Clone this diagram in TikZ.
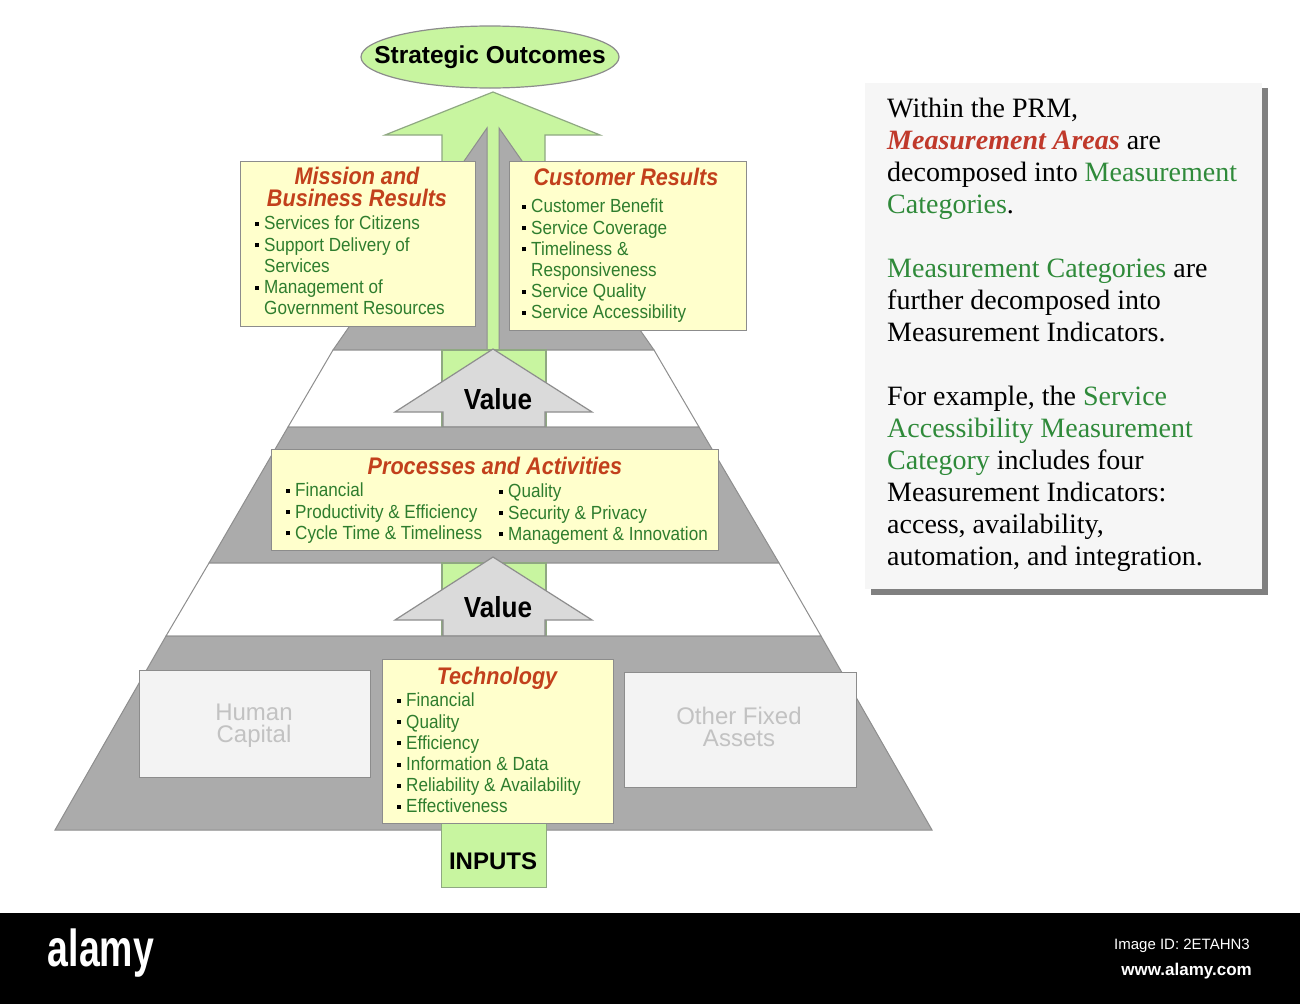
\documentclass[tikz,border=0pt]{standalone}
\usepackage{fontspec}
\usetikzlibrary{shapes.geometric}
\setmainfont{Liberation Serif}
\newfontfamily\sansc[FakeStretch=0.9]{Liberation Sans}
\newfontfamily\sansn{Liberation Sans}
\newfontfamily\sanslogo[FakeStretch=0.72]{Liberation Sans}
\definecolor{arrowgreen}{HTML}{C8F5A0}
\definecolor{arrowline}{HTML}{8FA882}
\definecolor{boxfill}{HTML}{FFFFCC}
\definecolor{boxline}{HTML}{8C8C8C}
\definecolor{pyrgray}{HTML}{ABABAB}
\definecolor{pyrline}{HTML}{8E8E8E}
\definecolor{valuefill}{HTML}{DADADA}
\definecolor{titlered}{HTML}{C2401C}
\definecolor{itemgreen}{HTML}{2E7D2E}
\definecolor{txtgreen}{HTML}{2F8A3A}
\definecolor{txtred}{HTML}{C0392B}
\definecolor{panelfill}{HTML}{F6F6F6}
\definecolor{shadow}{HTML}{808080}
\definecolor{ghostfill}{HTML}{F3F3F3}
\definecolor{ghosttext}{HTML}{C2C2C2}
\newcommand\bul{\makebox[9pt][l]{\color{black}\rule[4pt]{4pt}{4pt}}}
\newcommand\ind{\hspace*{9pt}}
\tikzset{
  box/.style={draw=boxline, fill=boxfill, line width=1.2pt, inner sep=0pt, anchor=north west},
  ghostbox/.style={draw=boxline, fill=ghostfill, line width=1.2pt, inner sep=0pt, anchor=north west},
  greenbox/.style={draw=arrowline, fill=arrowgreen, line width=1.2pt, inner sep=0pt, anchor=north west},
  boxtitle/.style={font=\sansc\bfseries\itshape\fontsize{24}{22}\selectfont, text=titlered, align=center, inner sep=0pt, anchor=north},
  items/.style={font=\sansc\fontsize{19}{21.2}\selectfont, text=itemgreen, align=left, inner sep=0pt, anchor=north west},
  ghosttxt/.style={font=\sansn\fontsize{24}{22}\selectfont, text=ghosttext, align=center, inner sep=0pt},
  valuetxt/.style={font=\sansc\bfseries\fontsize{29}{30}\selectfont, text=black, inner sep=0pt},
  graylayer/.style={fill=pyrgray, draw=pyrline, line width=1pt},
  whitelayer/.style={fill=white, draw=pyrline, line width=1pt},
  greenarrow/.style={fill=arrowgreen, draw=arrowline, line width=1.2pt, line join=miter},
  valuearrow/.style={fill=valuefill, draw=pyrline, line width=1.2pt},
}
\begin{document}
\begin{tikzpicture}[x=1pt, y=-1pt]
\useasboundingbox (0,0) rectangle (1300,1004);
\fill[white] (0,0) rectangle (1300,915);
\fill[black] (0,913) rectangle (1300,1004);

% big green arrow
\draw[greenarrow] (493,92) -- (600,135) -- (545,135) -- (545,350) -- (442,350) -- (442,135) -- (385,135) -- cycle;
% top gray triangle (two halves)
\draw[graylayer] (487,128) -- (487,350) -- (333,350) -- cycle;
\draw[graylayer] (499,128) -- (499,350) -- (654,350) -- cycle;

% white band 1
\draw[whitelayer] (333,350) -- (654,350) -- (699,427) -- (288,427) -- cycle;
\draw[greenarrow] (442,350) rectangle (546,427);
\draw[valuearrow] (493,349) -- (592,412) -- (545,412) -- (545,427) -- (443,427) -- (443,412) -- (395,412) -- cycle;
\node[valuetxt] (v1) at (498,399) {Value};

% gray band 2
\draw[graylayer] (288,427) -- (699,427) -- (779,563) -- (209,563) -- cycle;

% white band 2
\draw[whitelayer] (209,563) -- (779,563) -- (821,636) -- (166,636) -- cycle;
\draw[greenarrow] (442,563) rectangle (546,636);
\draw[valuearrow] (493,557) -- (592,620) -- (545,620) -- (545,636) -- (443,636) -- (443,620) -- (395,620) -- cycle;
\node[valuetxt] (v2) at (498,607) {Value};

% processes box
\node[box, minimum width=447pt, minimum height=101pt] (pa) at (271,449) {};
\node[boxtitle] (pat) at (495,457) {Processes and Activities};
\node[items] (pal) at (286,483) {\bul Financial\\ \bul Productivity \& Efficiency\\ \bul Cycle Time \& Timeliness};
\node[items] (par) at (499,484) {\bul Quality\\ \bul Security \& Privacy\\ \bul Management \& Innovation};

% gray band 3
\draw[graylayer] (166,636) -- (821,636) -- (932,830) -- (55,830) -- cycle;

% inputs
\node[greenbox, minimum width=105pt, minimum height=64pt] (in) at (441,823) {};
\node[font=\sansn\bfseries\fontsize{24}{24}\selectfont, inner sep=0pt] (int) at (493,861) {INPUTS};

% bottom boxes
\node[ghostbox, minimum width=231pt, minimum height=107pt] (hc) at (139,670) {};
\node[ghosttxt] (hct) at (254,726) {Human\\Capital};
\node[ghostbox, minimum width=232pt, minimum height=115pt] (of) at (624,672) {};
\node[ghosttxt] (oft) at (739,727) {Other Fixed\\Assets};
\node[box, minimum width=231pt, minimum height=164pt] (te) at (382,659) {};
\node[boxtitle] (tet) at (497,667) {Technology};
\node[items] (tel) at (397,693) {\bul Financial\\ \bul Quality\\ \bul Efficiency\\ \bul Information \& Data\\ \bul Reliability \& Availability\\ \bul Effectiveness};

% top boxes
\node[box, minimum width=235pt, minimum height=165pt] (mb) at (240,161) {};
\node[boxtitle] (mbt) at (357,167) {Mission and\\Business Results};
\node[items] (mbl) at (255,216) {\bul Services for Citizens\\ \bul Support Delivery of\\ \ind Services\\ \bul Management of\\ \ind Government Resources};
\node[box, minimum width=237pt, minimum height=169pt] (cr) at (509,161) {};
\node[boxtitle] (crt) at (626,168) {Customer Results};
\node[items] (crl) at (522,199) {\bul Customer Benefit\\ \bul Service Coverage\\ \bul Timeliness \&\\ \ind Responsiveness\\ \bul Service Quality\\ \bul Service Accessibility};

% strategic outcomes
\node[ellipse, draw=boxline, fill=arrowgreen, line width=1.2pt, minimum width=258pt, minimum height=62pt, inner sep=0pt] (so) at (490,57) {};
\node[font=\sansn\bfseries\fontsize{24.5}{25}\selectfont, inner sep=0pt] (sot) at (490,57) {Strategic Outcomes};

% right panel
\fill[shadow] (871,589) rectangle (1268,595);
\fill[shadow] (1262,88) rectangle (1268,595);
\node[fill=panelfill, minimum width=397pt, minimum height=506pt, inner sep=0pt, anchor=north west] (panel) at (865,83) {};
\node[font=\fontsize{28}{32}\selectfont, align=left, inner sep=0pt, anchor=north west] (ptxt) at (887,98) {Within the PRM,\\
{\color{txtred}\bfseries\itshape Measurement Areas} are\\
decomposed into {\color{txtgreen}Measurement}\\
{\color{txtgreen}Categories}.\\[32pt]
{\color{txtgreen}Measurement Categories} are\\
further decomposed into\\
Measurement Indicators.\\[32pt]
For example, the {\color{txtgreen}Service}\\
{\color{txtgreen}Accessibility Measurement}\\
{\color{txtgreen}Category} includes four\\
Measurement Indicators:\\
access, availability,\\
automation, and integration.};

% footer
\node[font=\sanslogo\bfseries\fontsize{52}{52}\selectfont, text=white, inner sep=0pt] (logo) at (101,953) {alamy};
\node[font=\sansn\fontsize{15}{15}\selectfont, text=white, inner sep=0pt, anchor=east] (imgid) at (1250,946) {Image ID: 2ETAHN3};
\node[font=\sansn\bfseries\fontsize{17}{17}\selectfont, text=white, inner sep=0pt, anchor=east] (url) at (1252,971) {www.alamy.com};
\end{tikzpicture}
\end{document}
